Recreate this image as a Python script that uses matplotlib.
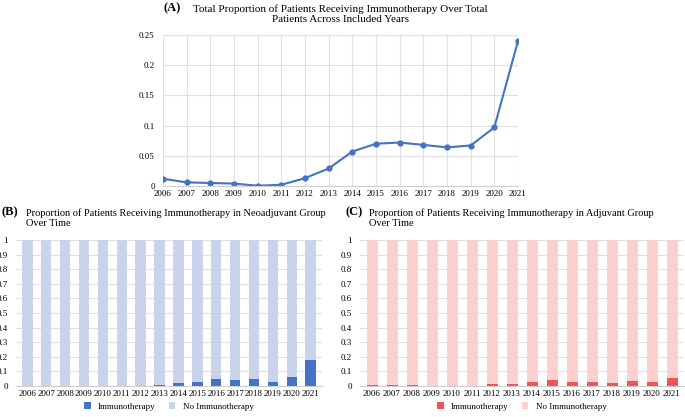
import matplotlib
matplotlib.use("Agg")
import matplotlib.pyplot as plt
import numpy as np

plt.rcParams['font.family'] = ['Liberation Serif', 'DejaVu Serif']

years = [str(y) for y in range(2006, 2022)]
total = [0.012, 0.006, 0.005, 0.004, 0.0005, 0.002, 0.013, 0.029, 0.057, 0.070, 0.072, 0.068, 0.064, 0.067, 0.097, 0.240]
neo_immuno = [0, 0, 0, 0, 0, 0, 0, 0.01, 0.02, 0.025, 0.045, 0.04, 0.045, 0.03, 0.065, 0.18]
adj_immuno = [0.01, 0.005, 0.005, 0.003, 0, 0, 0.012, 0.012, 0.03, 0.042, 0.025, 0.028, 0.018, 0.032, 0.028, 0.055]

W, H = 685, 417
fig = plt.figure(figsize=(W/100, H/100), dpi=100)

def ax_px(l, t, r, b):
    return fig.add_axes([l/W, 1-b/H, (r-l)/W, (b-t)/H])

def style(ax):
    for s in ax.spines.values():
        s.set_visible(False)
    ax.spines['bottom'].set_visible(True)
    ax.spines['bottom'].set_color('#d0d0d0')
    ax.tick_params(length=0, labelsize=6.5)
    ax.tick_params(axis='x', pad=3)
    ax.tick_params(axis='y', pad=6)
    ax.set_axisbelow(True)

# A
axA = ax_px(163, 35, 518, 186)
x = np.arange(len(years))
axA.plot(x, total, color='#4472c4', marker='o', markersize=3.5, lw=1.5)
axA.set_xlim(0, len(years)-1)
axA.set_ylim(0, 0.25)
axA.set_yticks([0, 0.05, 0.1, 0.15, 0.2, 0.25])
axA.set_yticklabels(['0', '0.05', '0.1', '0.15', '0.2', '0.25'])
axA.set_xticks(x)
axA.set_xticklabels(years)
axA.grid(True, color='#e0e0e0', lw=0.8)
style(axA)
fig.text(163/W, 1-8/H, '(A)', fontsize=9, fontweight='bold', ha='left', va='center')
fig.text(340/W, 1-14/H, 'Total Proportion of Patients Receiving Immunotherapy Over Total\nPatients Across Included Years',
         fontsize=8, ha='center', va='center', linespacing=1.1)

def bar_panel(l, r, vals, c1, c2):
    ax = ax_px(l, 240, r, 386)
    vals = np.array(vals)
    ax.bar(x, vals, width=0.55, color=c1, label='Immunotherapy')
    ax.bar(x, 1-vals, bottom=vals, width=0.55, color=c2, label='No Immunotherapy')
    ax.set_xlim(-0.6, len(years)-0.4)
    ax.set_ylim(0, 1)
    ax.set_yticks(np.arange(0, 1.01, 0.1))
    ax.set_yticklabels(['0', '0.1', '0.2', '0.3', '0.4', '0.5', '0.6', '0.7', '0.8', '0.9', '1'])
    ax.set_xticks(x)
    ax.set_xticklabels(years)
    ax.grid(True, axis='y', color='#e0e0e0', lw=0.8)
    style(ax)
    ax.legend(loc='upper center', bbox_to_anchor=(0.5, -0.1), ncol=2, frameon=False,
              fontsize=6.5, handlelength=0.7, handleheight=0.7, columnspacing=1.5,
              borderaxespad=0, borderpad=0.2)
    return ax

bar_panel(16, 322, neo_immuno, '#4472c4', '#c9d3eb')
fig.text(2/W, 1-212/H, '(B)', fontsize=9, fontweight='bold', ha='left', va='center')
fig.text(26/W, 1-218/H, 'Proportion of Patients Receiving Immunotherapy in Neoadjuvant Group\nOver Time',
         fontsize=7.5, ha='left', va='center', linespacing=1.1)

bar_panel(360, 684, adj_immuno, '#f05454', '#fdd0d0')
fig.text(345/W, 1-212/H, '(C)', fontsize=9, fontweight='bold', ha='left', va='center')
fig.text(369/W, 1-218/H, 'Proportion of Patients Receiving Immunotherapy in Adjuvant Group\nOver Time',
         fontsize=7.5, ha='left', va='center', linespacing=1.1)

fig.savefig('out.png', dpi=100)
